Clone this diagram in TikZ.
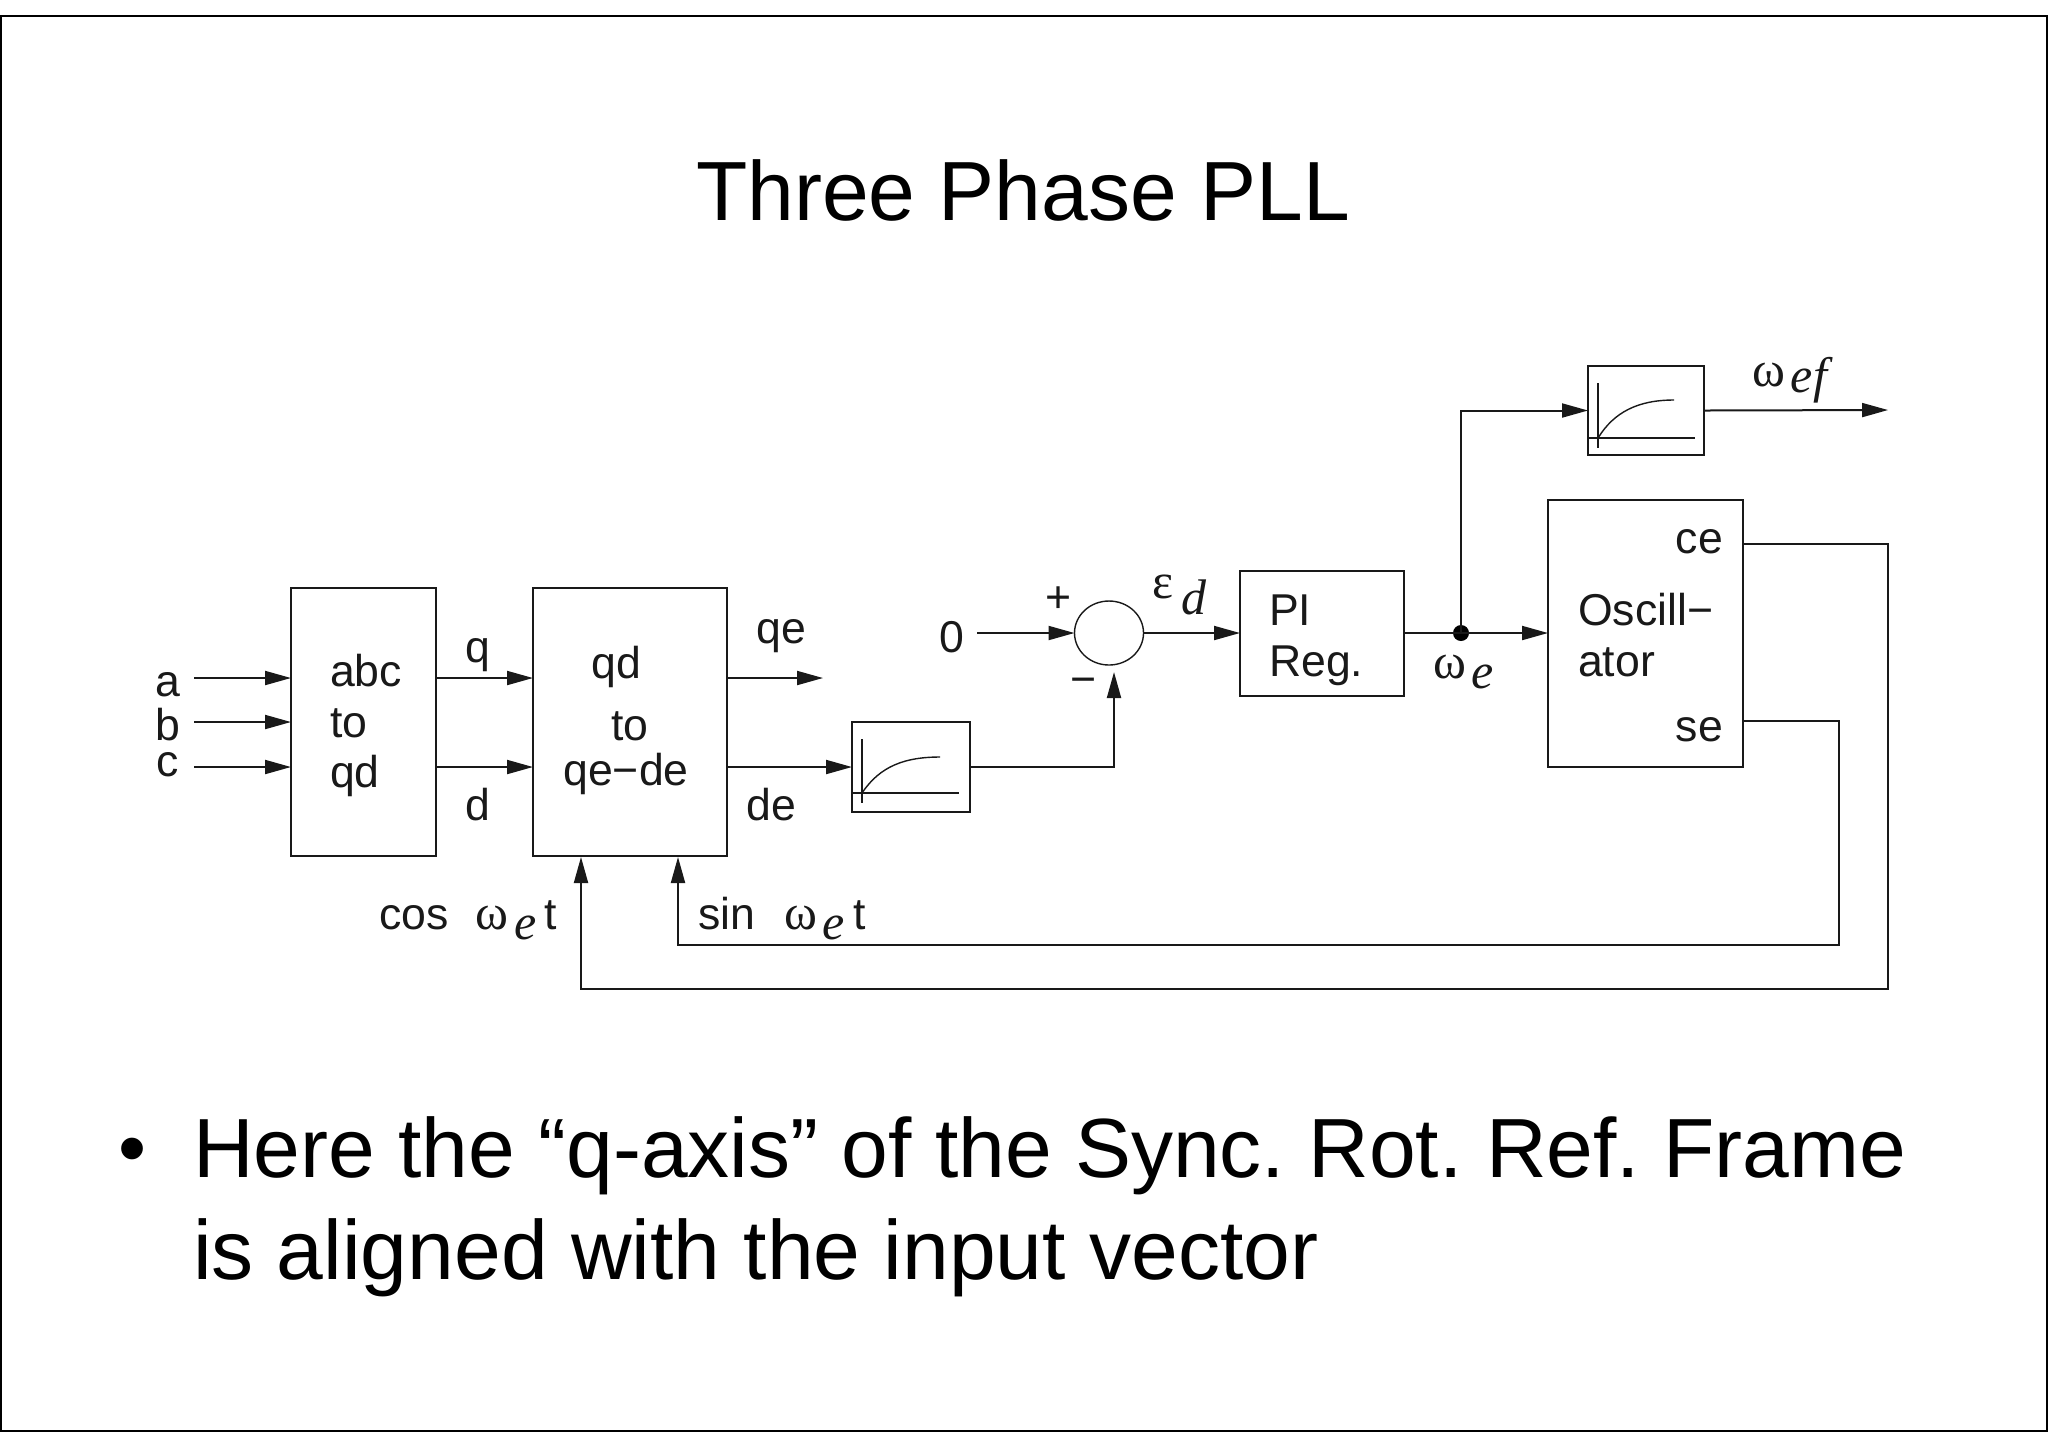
\documentclass[tikz,border=0pt]{standalone}
\usepackage{fontspec}
\setmainfont{Liberation Sans}
\newfontfamily\symfont{Liberation Serif}
\usetikzlibrary{arrows.meta,shapes.geometric}
\newcommand{\symsize}{\fontsize{25}{27}\selectfont}
\newcommand{\omegasub}[2][-5pt]{{\symfont\symsize ω\hspace{3pt}\raisebox{#1}{\itshape #2}}}
\tikzset{
  x=0.5pt,y=-0.5pt,
  wire/.style={line width=1pt,draw=black!90},
  flow/.style={wire,-{Triangle[length=13pt,width=7pt]}},
  block/.style={draw=black!90,line width=1pt,inner sep=0pt,outer sep=0pt,minimum width=0pt,minimum height=0pt},
  lab/.style={inner sep=0pt,outer sep=0pt,font=\fontsize{22.3}{24}\selectfont,text=black!90},
  title/.style={inner sep=0pt,outer sep=0pt,font=\fontsize{42}{46}\selectfont,text=black},
  body/.style={inner sep=0pt,outer sep=0pt,font=\fontsize{42}{46}\selectfont\frenchspacing,text=black},
  curveline/.style={line width=0.7pt,draw=black!90},
}
\newcommand{\boxat}[6][block]{\node[#1,minimum width=#5*0.5pt-#3*0.5pt,minimum height=#6*0.5pt-#4*0.5pt,anchor=north west] (#2) at (#3,#4) {};}
\begin{document}
\begin{tikzpicture}
\useasboundingbox (0,0) rectangle (2048,1448);
\node[draw=black,line width=1pt,minimum width=1023pt,minimum height=707.5pt,inner sep=0pt,outer sep=0pt,anchor=north west] (frame) at (1,16) {};
% title and body
\node[title,anchor=base] (ttl) at (1023,220) {Three Phase PLL};
\node[body,anchor=base,font=\fontsize{40}{44}\selectfont] (bul) at (133,1175) {•};
\node[body,anchor=base west] (l1) at (193,1177) {Here the “q-axis” of the Sync. Rot. Ref. Frame};
\node[body,anchor=base west] (l2) at (193,1279) {is aligned with the input vector};
% blocks
\boxat{b1}{291}{588}{436}{856}
\boxat{b2}{533}{588}{727}{856}
\boxat{f1}{852}{722}{970}{812}
\boxat{pi}{1240}{571}{1404}{696}
\boxat{osc}{1548}{500}{1743}{767}
\boxat{f2}{1588}{366}{1704}{455}
\node[draw=black!90,line width=0.7pt,ellipse,inner sep=0pt,outer sep=0pt,minimum width=34.5pt,minimum height=32pt] (sum) at (1109,633) {};
\fill[black] (1461,633) circle[radius=8] coordinate (dot);
% free ends
\coordinate (ina) at (194,678);
\coordinate (inb) at (194,722);
\coordinate (inc) at (194,767);
\coordinate (qeout) at (823,678);
\coordinate (zero) at (977,633);
\coordinate (efout) at (1888,410);
\coordinate (yq) at (0,678);
\coordinate (yd) at (0,767);
\coordinate (yce) at (0,544);
\coordinate (yse) at (0,721);
% connectors
\draw[flow] (ina) -- (b1.west |- ina);
\draw[flow] (inb) -- (b1.west |- inb);
\draw[flow] (inc) -- (b1.west |- inc);
\draw[flow] (b1.east |- yq) -- (b2.west |- yq);
\draw[flow] (b1.east |- yd) -- (b2.west |- yd);
\draw[flow] (b2.east |- yq) -- (qeout);
\draw[flow] (b2.east |- yd) -- (f1.west |- yd);
\draw[flow] (f1.east |- yd) -| (1114,672);
\draw[flow] (zero) -- (sum.west);
\draw[flow] (sum.east) -- (pi.west |- sum.east);
\draw[wire] (pi.east |- dot) -- (dot);
\draw[flow] (dot) -- (osc.west |- dot);
\draw[flow] (dot) |- (f2.west);
\draw[flow] (f2.east) -- (efout);
\draw[flow] (osc.east |- yce) -- (1888,544) -- (1888,989) -- (581,989) -- (581,857);
\draw[flow] (osc.east |- yse) -- (1839,721) -- (1839,945) -- (678,945) -- (678,857);
% filter glyphs
\draw[curveline] (862,739) -- (862,803);
\draw[curveline] (852,793) -- (959,793);
\draw[curveline] (862,793) .. controls (880,766) and (905,757) .. (940,757);
\draw[curveline] (1598,383) -- (1598,448);
\draw[curveline] (1588,438) -- (1695,438);
\draw[curveline] (1598,438) .. controls (1614,412) and (1638,400) .. (1674,400);
% labels
\node[lab,anchor=base] (la) at (168,696) {a};
\node[lab,anchor=base] (lb) at (168,740) {b};
\node[lab,anchor=base] (lc) at (168,776) {c};
\node[lab,anchor=base west] (t1a) at (330,686) {abc};
\node[lab,anchor=base west] (t1b) at (330,737) {to};
\node[lab,anchor=base west] (t1c) at (330,787) {qd};
\node[lab,anchor=base] (lq) at (478,662) {q};
\node[lab,anchor=base] (ld) at (478,820) {d};
\node[lab,anchor=base] (t2a) at (616,678) {qd};
\node[lab,anchor=base] (t2b) at (630,740) {to};
\node[lab,anchor=base] (t2c) at (626,785) {qe−de};
\node[lab,anchor=base] (lqe) at (781,643) {qe};
\node[lab,anchor=base] (lde) at (771,820) {de};
\node[lab,anchor=base west] (lcos) at (379,929) {cos\hspace{13.5pt}\omegasub{e}\hspace{4pt}t};
\node[lab,anchor=base west] (lsin) at (698,929) {sin\hspace{14.5pt}\omegasub{e}\hspace{4pt}t};
\node[lab,anchor=base] (l0) at (952,652) {0};
\node[lab,anchor=base] (lp) at (1059,612) {+};
\node[lab,anchor=base] (lm) at (1084,694) {−};
\node[lab,anchor=base west] (leps) at (1152,598) {{\symfont\symsize ε}\hspace{4pt}\raisebox{-8pt}{\symfont\symsize\itshape d}};
\node[lab,anchor=base west] (t3a) at (1269,625) {PI};
\node[lab,anchor=base west] (t3b) at (1269,676) {Reg.};
\node[lab,anchor=base west] (lwe) at (1433,678) {\omegasub{e}};
\node[lab,anchor=base west] (t4a) at (1578,625) {Oscill−};
\node[lab,anchor=base west] (t4b) at (1578,676) {ator};
\node[lab,anchor=base east] (lce) at (1723,553) {ce};
\node[lab,anchor=base east] (lse) at (1723,741) {se};
\node[lab,anchor=base west] (lwef) at (1752,386) {\omegasub[-3pt]{ef}};
\end{tikzpicture}
\end{document}
